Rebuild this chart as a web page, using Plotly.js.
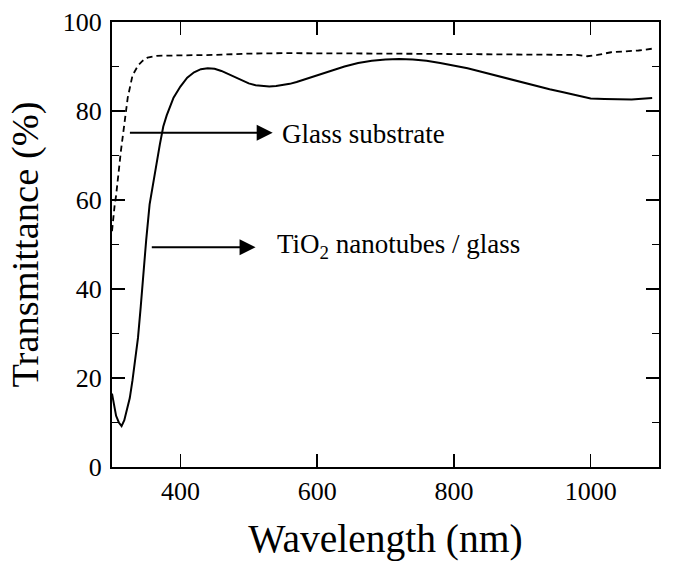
<!DOCTYPE html>
<html>
<head>
<meta charset="utf-8">
<script src="https://cdn.plot.ly/plotly-3.0.1.min.js"></script>
<style>html,body{margin:0;padding:0;background:#fff;}#chart{width:682px;height:573px;}</style>
</head>
<body>
<div id="chart"></div>
<script>
const tio2Wavelength = [300,303,306,310,314,318,322,326,330,334,338,342,346,350,355,360,365,370,375,380,385,390,400,410,420,430,440,450,460,470,480,490,500,510,520,530,540,550,560,570,580,590,600,620,640,660,680,700,720,740,760,780,800,820,840,860,880,900,920,940,960,980,1000,1020,1040,1060,1080,1090];
const tio2Transmittance = [16.5,13.5,11.5,10,9.2,10.5,12.8,15.5,19.5,24,29,36,44,51,59,64,68,72.5,76.5,79,81,83,85.5,87.5,88.7,89.4,89.6,89.5,89,88.3,87.5,86.8,86.2,85.8,85.6,85.5,85.6,85.8,86.1,86.5,87,87.5,88,89,90,90.8,91.3,91.6,91.7,91.6,91.3,90.8,90.2,89.6,88.8,88.0,87.3,86.5,85.6,84.9,84.2,83.5,82.8,82.7,82.6,82.6,82.8,82.9];

const glassWavelength = [300,302,304,306,309,313,318,323,330,338,345,352,365,380,400,450,500,550,600,700,800,900,980,995,1010,1030,1050,1070,1090];
const glassTransmittance = [53,57,59,61,65.5,71,77,83,88,90.2,91.3,92,92.4,92.5,92.5,92.6,92.9,93,93,92.9,92.8,92.7,92.6,92.3,92.6,93.2,93.4,93.6,94];

const xTickVals = [400,600,800,1000];
const yTickVals = [0,20,40,60,80,100];

const labelGlass = 'Glass substrate';
const labelTio2 = 'TiO<sub>2</sub> nanotubes / glass';

const serif = '"Liberation Serif", serif';

const traces = [
  {x: glassWavelength, y: glassTransmittance, type: 'scatter', mode: 'lines',
   line: {color: '#000', width: 1.8, dash: '6px,4px'}, showlegend: false, hoverinfo: 'skip'},
  {x: tio2Wavelength, y: tio2Transmittance, type: 'scatter', mode: 'lines',
   line: {color: '#000', width: 2}, showlegend: false, hoverinfo: 'skip'}
];

const layout = {
  width: 682, height: 573,
  margin: {l: 112, r: 23, t: 22, b: 106},
  paper_bgcolor: '#fff', plot_bgcolor: '#fff',
  font: {family: serif, color: '#000'},
  xaxis: {
    range: [300, 1100], tickvals: xTickVals, ticks: 'inside', ticklen: 13, tickwidth: 1.5,
    tickcolor: '#000', showline: true, linecolor: '#000', linewidth: 2, mirror: 'ticks',
    showgrid: false, zeroline: false, tickfont: {family: serif, size: 26},
    title: {text: 'Wavelength (nm)', font: {family: serif, size: 39.5}, standoff: 19}
  },
  yaxis: {
    range: [0, 100], tickvals: yTickVals, ticks: 'inside', ticklen: 13, tickwidth: 1.5,
    tickcolor: '#000', showline: true, linecolor: '#000', linewidth: 2, mirror: 'ticks',
    showgrid: false, zeroline: false, tickfont: {family: serif, size: 26},
    ticklabelstandoff: 3,
    minor: {dtick: 10, ticks: 'inside', ticklen: 7, tickwidth: 1.5, tickcolor: '#000', showgrid: false},
    title: {text: 'Transmittance (%)', font: {family: serif, size: 38.5}, standoff: 12}
  },
  annotations: [
    {x: 535, y: 75.1, ax: 324, ay: 75.1, xref: 'x', yref: 'y', axref: 'x', ayref: 'y',
     text: '', showarrow: true, arrowhead: 2, arrowsize: 1.6, arrowwidth: 2, arrowcolor: '#000'},
    {x: 545, y: 74.8, xref: 'x', yref: 'y', text: labelGlass, showarrow: false,
     xanchor: 'left', yanchor: 'middle', font: {family: serif, size: 27, color: '#000'}},
    {x: 510, y: 49.4, ax: 356, ay: 49.4, xref: 'x', yref: 'y', axref: 'x', ayref: 'y',
     text: '', showarrow: true, arrowhead: 2, arrowsize: 1.6, arrowwidth: 2, arrowcolor: '#000'},
    {x: 538, y: 49.6, xref: 'x', yref: 'y', text: labelTio2, showarrow: false,
     xanchor: 'left', yanchor: 'middle', font: {family: serif, size: 27, color: '#000'}}
  ]
};

Plotly.newPlot('chart', traces, layout, {staticPlot: true, displayModeBar: false});
</script>
</body>
</html>
